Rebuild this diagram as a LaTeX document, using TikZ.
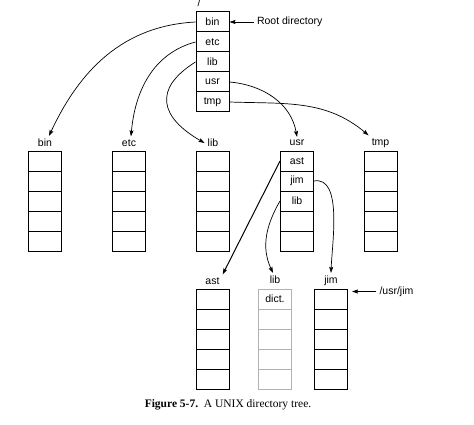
\documentclass[tikz,border=0pt]{standalone}
\usepackage{fontspec}
\setmainfont{Liberation Serif}
\setsansfont{Liberation Sans}
\usetikzlibrary{arrows.meta,positioning}

\begin{document}
\begin{tikzpicture}[x=1pt,y=1pt,font=\sffamily\fontsize{10.5}{12}\selectfont,
  cell/.style={draw,line width=1pt,minimum width=33pt,minimum height=20pt,inner sep=0pt},
  dirname/.style={inner sep=3pt},
  link/.style={line width=0.7pt,-{Stealth[length=6pt,width=4pt,inset=1pt]}}]
\useasboundingbox (0,0) rectangle (474,424);
\node (rootname) at (199,421) {/};
\foreach \t [count=\i] in {bin,etc,lib,usr,tmp}
  \node[cell] (root-\i) at (212.5,422-20*\i) {\t};
\node[right=24pt of root-1] (rootdir) {Root directory};
\foreach \d/\x in {bin/45,etc/129,lib/213,tmp/380.5}{
  \node[dirname] (\d) at (\x,281) {\d};
  \foreach \i in {1,...,5}
    \node[cell] (\d-\i) at (\x,283-20*\i) {};
  }
\node[dirname] (usr) at (297,281) {usr};
\foreach \t [count=\i] in {ast,jim,lib,{},{}}
  \node[cell] (usr-\i) at (297,283-20*\i) {\t};
\node[dirname] (ast) at (212.5,143) {ast};
\node[dirname] (ulib) at (275,144) {lib};
\node[dirname] (jim) at (331,143) {jim};
\foreach \i in {1,...,5}{
  \node[cell] (ast-\i) at (212.5,145-20*\i) {};
  \node[cell,draw=gray!60] (ulib-\i) at (275,145-20*\i) {};
  \node[cell] (jim-\i) at (331,145-20*\i) {};
  }
\node at (ulib-1) {dict.};
\node[right=28pt of jim-1.north east,anchor=west,yshift=-3pt] (usrjim) {/usr/jim};
\draw[link] (rootdir.west) -- (root-1.east |- rootdir.west);
\draw[link] (usrjim.west) -- ([xshift=4pt]jim-1.east |- usrjim.west);
\draw[link] (root-1.west) to[out=183,in=65] ([xshift=4pt]bin.north);
\draw[link] (root-2.west) to[out=195,in=85] ([xshift=2pt]etc.north);
\draw[link] (root-3.west) to[out=212,in=150,looseness=1.6] (lib.west);
\draw[link] (root-4.east) to[out=-5,in=100] (usr.north);
\draw[link] (root-5.east) to[out=-2,in=140] (tmp.north west);
\draw[link,line width=1pt] (usr-1.west) -- (ast.north east);
\draw[link] (usr-3.west) to[out=240,in=115] ([xshift=-2pt]ulib.north);
\draw[link] (usr-2.east) to[out=10,in=88,looseness=0.8] (jim.north);
\node[font=\rmfamily\fontsize{11.5}{13}\selectfont] (caption) at (228,19)
  {\textbf{Figure 5-7.}\ \ A UNIX directory tree.};
\end{tikzpicture}
\end{document}
